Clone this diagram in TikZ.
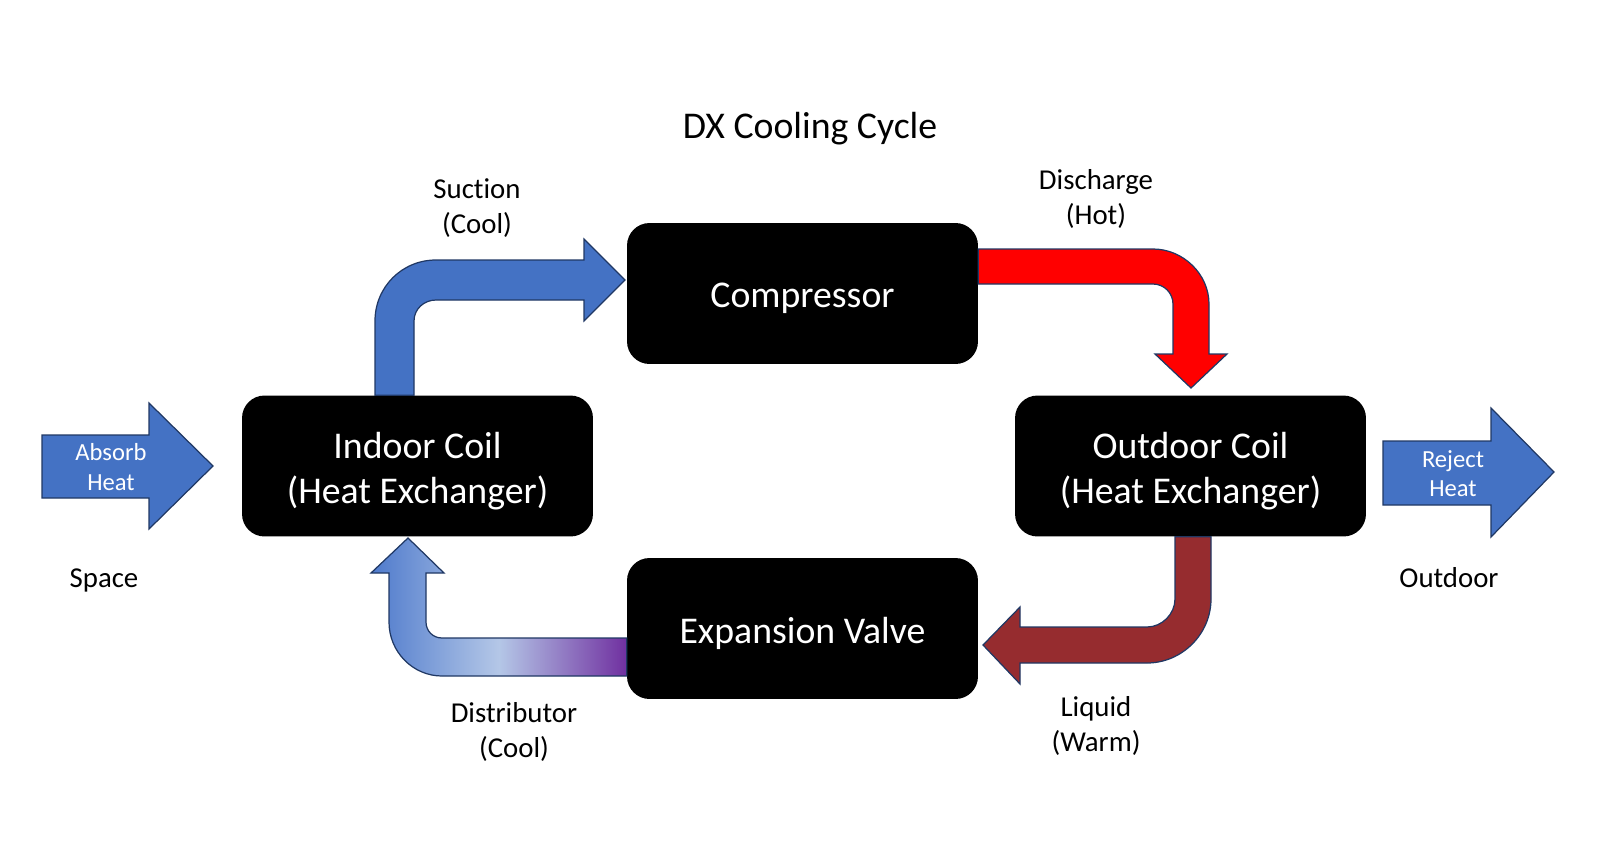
\documentclass[tikz,border=0pt]{standalone}
\usepackage{fontspec}
\setmainfont{Carlito}[Ligatures=CommonOff]

\definecolor{coolblue}{RGB}{68,114,196}
\definecolor{edgeblue}{RGB}{32,56,100}
\definecolor{hotred}{RGB}{255,0,0}
\definecolor{warmred}{RGB}{150,44,47}
\definecolor{distleft}{RGB}{78,122,204}
\definecolor{distmid}{RGB}{180,199,231}
\definecolor{distright}{RGB}{112,48,160}

\begin{document}
\begin{tikzpicture}[
    x=0.02cm, y=-0.02cm,
    unit/.style={rectangle, rounded corners=0.45cm, fill=black, minimum width=7.02cm, minimum height=2.82cm},
    unittext/.style={align=center, text=white, font=\fontsize{21.5}{25.5}\selectfont},
    note/.style={align=center, font=\fontsize{16.4}{19.6}\selectfont},
    heading/.style={font=\fontsize{21.5}{25.5}\selectfont},
    flow/.style={draw=edgeblue, line width=0.7pt, line join=miter},
    inarrow/.style={align=center, text=white, font=\fontsize{14}{16.6}\selectfont}
]
\useasboundingbox (0,0) rectangle (1602,856);

% Titre
\node[heading] (title) at (810,129) {DX Cooling Cycle};

% Composants
\node[unit] (comp) at (802.5,293.5) {};
\node[unit] (indoor) at (417.5,466) {};
\node[unit] (outdoor) at (1190.5,466) {};
\node[unit] (valve) at (802.5,628.5) {};
\node[unittext] (comp-txt) at (802.5,298.5) {Compressor};
\node[unittext] (indoor-txt) at (417.5,471) {Indoor Coil\\(Heat Exchanger)};
\node[unittext] (outdoor-txt) at (1190.5,471) {Outdoor Coil\\(Heat Exchanger)};
\node[unittext] (valve-txt) at (802.5,633.5) {Expansion Valve};

% Circuit frigorifique
\draw[flow, fill=coolblue] (375,0 |- indoor.north) -- (375,321) .. controls (375,287) and (402,260) .. (436,260) -- (584,260) -- (584,239) -- (625,280) -- (584,321) -- (584,300) -- (436,300) .. controls (424,300) and (414,309) .. (414,321) -- (414,0 |- indoor.north) -- cycle;
\draw[flow, fill=hotred] (comp.east |- 0,249) -- (1153,249) .. controls (1183,249) and (1209,274) .. (1209,304) -- (1209,354) -- (1227,354) -- (1191,388) -- (1155,354) -- (1173,354) -- (1173,304) .. controls (1173,293) and (1164,284) .. (1153,284) -- (comp.east |- 0,284) -- cycle;
\draw[flow, fill=warmred] (1175,0 |- outdoor.south) -- (1211,0 |- outdoor.south) -- (1211,599) .. controls (1211,634) and (1182,663) .. (1147,663) -- (1020,663) -- (1020,684) -- (983,645) -- (1020,607) -- (1020,627) -- (1147,627) .. controls (1162,627) and (1175,614) .. (1175,599) -- cycle;
\shadedraw[flow, left color=distleft, right color=distright, middle color=distmid] (valve.west |- 0,676) -- (442,676) .. controls (413,676) and (389,652) .. (389,622) -- (389,573) -- (371,573) -- (408,538) -- (444,573) -- (426,573) -- (426,622) .. controls (426,631) and (433,638) .. (442,638) -- (valve.west |- 0,638) -- cycle;

% Echanges de chaleur
\draw[flow, fill=coolblue] (42,435) -- (149,435) -- (149,403) -- (213,466) -- (149,529) -- (149,498) -- (42,498) -- cycle;
\node[inarrow] (absorb) at (111,467) {Absorb\\Heat};
\draw[flow, fill=coolblue] (1383,441) -- (1491,441) -- (1491,408) -- (1554,472) -- (1491,537) -- (1491,505) -- (1383,505) -- cycle;
\node[inarrow] (reject) at (1453,474) {Reject\\Heat};

% Etiquettes
\node[note] (suction) at (477,208) {Suction\\(Cool)};
\node[note] (discharge) at (1096,199) {Discharge\\(Hot)};
\node[note] (distrib) at (514,732) {Distributor\\(Cool)};
\node[note] (liquid) at (1096,726) {Liquid\\(Warm)};
\node[note] (space) at (104,580) {Space};
\node[note] (outside) at (1449,578) {Outdoor};

\end{tikzpicture}
\end{document}
